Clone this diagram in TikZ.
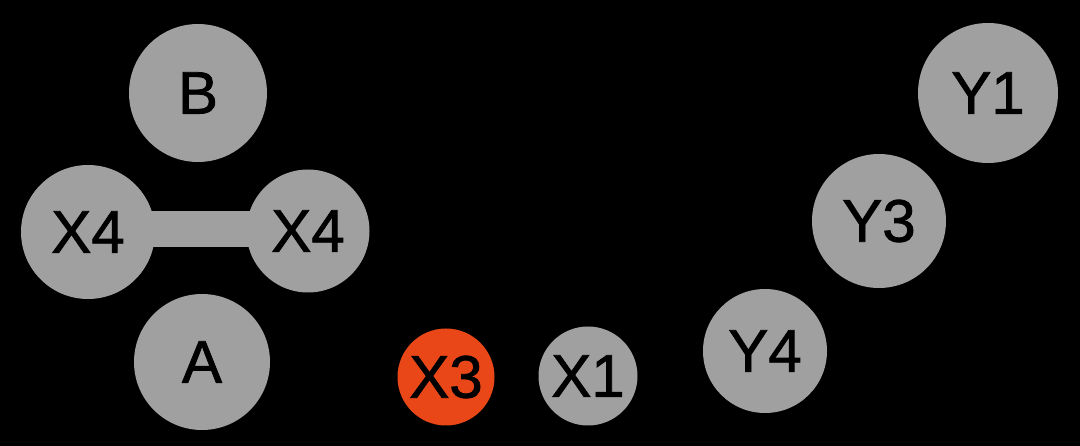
\documentclass[tikz,border=0pt]{standalone}
\usepackage{fontspec}
\setmainfont[FakeBold=1.3]{Liberation Sans}
\usetikzlibrary{backgrounds}
\definecolor{nodegrey}{RGB}{160,160,160}
\definecolor{nodered}{RGB}{233,71,24}
\begin{document}
\begin{tikzpicture}[x=1pt,y=-1pt,
  ball/.style={circle,fill=nodegrey,inner sep=0pt,text=black,font=\fontsize{60}{60}\selectfont},
  hot/.style={ball,fill=nodered},
  bar/.style={nodegrey,line width=36pt}]
\useasboundingbox (0,0) rectangle (1080,446);
\node[ball,minimum size=138pt] (b) at (198,93) {B};
\node[ball,minimum size=134pt] (x4a) at (88,232) {X4};
\node[ball,minimum size=123pt] (x4b) at (308,231) {X4};
\node[ball,minimum size=136pt] (a) at (202,362) {A};
\node[hot,minimum size=97pt] (x3) at (446,377) {X3};
\node[ball,minimum size=99pt] (x1) at (588,376) {X1};
\node[ball,minimum size=124pt] (y4) at (765,351) {Y4};
\node[ball,minimum size=134pt] (y3) at (879,221) {Y3};
\node[ball,minimum size=140pt] (y1) at (988,93) {Y1};
\begin{scope}[on background layer]
\fill[black] (0,0) rectangle (1080,446);
\draw[bar] ([yshift=2.5pt]x4a.center) -- ([yshift=1.5pt]x4b.center);
\end{scope}
\end{tikzpicture}
\end{document}
